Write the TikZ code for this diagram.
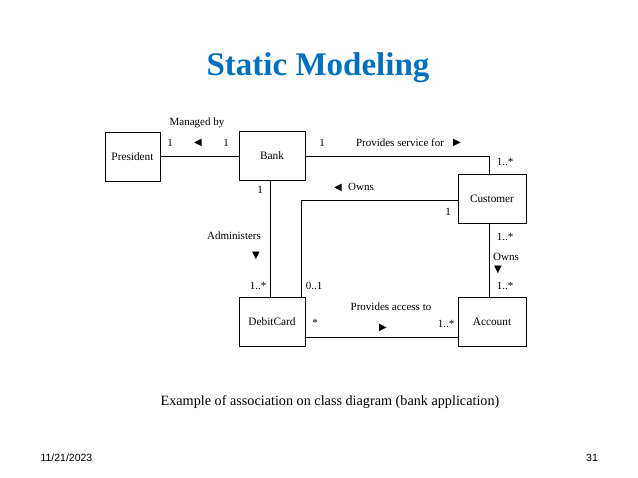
\documentclass[tikz,border=0pt]{standalone}
\usepackage{fontspec}
\setmainfont{Liberation Serif}
\newfontfamily\footfont{Liberation Sans}
\newfontfamily\symfont{DejaVu Sans}
\definecolor{titleblue}{RGB}{0,112,192}
\begin{document}
\begin{tikzpicture}[x=1pt,y=-1pt,
  cls/.style={draw,line width=0.9pt,minimum width=66pt,minimum height=49pt,inner sep=0pt,font=\fontsize{11.3}{13}\selectfont},
  lbl/.style={font=\fontsize{11}{12}\selectfont,inner sep=0pt},
  tri/.style={font=\symfont\fontsize{10}{11}\selectfont,inner sep=0pt},
  conn/.style={line width=0.8pt}]
\useasboundingbox (0,0) rectangle (638,478);
\node[font=\bfseries\fontsize{33}{36}\selectfont,text=titleblue] (title) at (318,68) {Static Modeling};
\node[cls,minimum width=55pt] (pres) at (132.5,157) {President};
\node[cls] (bank) at (272,155.5) {Bank};
\node[cls,minimum width=68pt] (cust) at (492,198.5) {Customer};
\node[cls] (debit) at (272,321.5) {DebitCard};
\node[cls,minimum width=68pt] (acct) at (492,321.5) {Account};
\coordinate (c1) at (489,156);
\coordinate (c2) at (301,200);
\draw[conn] (pres.east |- 0,156) -- (bank.west |- 0,156);
\draw[conn] (bank.east |- 0,156) -- (c1) -- (c1 |- cust.north);
\draw[conn] (bank.south -| 270,0) -- (debit.north -| 270,0);
\draw[conn] (cust.west |- c2) -- (c2) -- (c2 |- debit.north);
\draw[conn] (cust.south -| 489,0) -- (acct.north -| 489,0);
\draw[conn] (debit.east |- 0,337) -- (acct.west |- 0,337);
\node[lbl] (l1) at (197,123) {Managed by};
\node[lbl] (l2) at (170,143) {1};
\node[tri] (t1) at (198,143) {◀};
\node[lbl] (l3) at (226,143) {1};
\node[lbl] (l4) at (322,143) {1};
\node[lbl] (l5) at (400,143) {Provides service for};
\node[tri] (t2) at (457,143) {▶};
\node[lbl] (l6) at (505,162) {1..*};
\node[lbl] (l7) at (260,190) {1};
\node[tri] (t3) at (338,188) {◀};
\node[lbl] (l8) at (361,187) {Owns};
\node[lbl] (l9) at (448,212) {1};
\node[lbl] (l10) at (234,236) {Administers};
\node[tri] (t4) at (256,256) {▼};
\node[lbl] (l11) at (258,286) {1..*};
\node[lbl] (l12) at (314,286) {0..1};
\node[lbl] (l13) at (505,237) {1..*};
\node[lbl] (l14) at (506,257) {Owns};
\node[tri] (t5) at (498,270) {▼};
\node[lbl] (l15) at (505,286) {1..*};
\node[lbl] (l16) at (391,307) {Provides access to};
\node[lbl] (l17) at (315,323) {*};
\node[tri] (t6) at (383,328) {▶};
\node[lbl] (l18) at (446,324) {1..*};
\node[font=\fontsize{14.2}{16}\selectfont] (cap) at (330,402) {Example of association on class diagram (bank application)};
\node[font=\footfont\fontsize{10.5}{12}\selectfont,anchor=west] (date) at (37,458) {11/21/2023};
\node[font=\footfont\fontsize{10.5}{12}\selectfont] (pg) at (592,458) {31};
\end{tikzpicture}
\end{document}
